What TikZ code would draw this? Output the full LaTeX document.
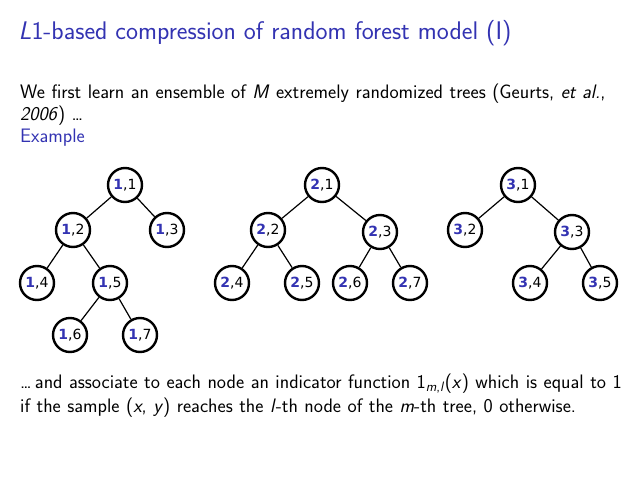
\documentclass[tikz,border=0pt]{standalone}
\usepackage{fontspec}
\newfontfamily\nodefont{DejaVu Sans}
\begin{document}
\begin{tikzpicture}[x=1pt,y=-1pt,
  tn/.style={circle,draw,line width=2.4pt,minimum size=34pt,inner sep=0pt,font=\nodefont\fontsize{14}{16}\selectfont},
  ed/.style={line width=1.2pt}]
\definecolor{bt}{RGB}{51,51,178}
\useasboundingbox (0,0) rectangle (638,479);
\node[anchor=west,text=bt,font=\sffamily\fontsize{25.5}{30}\selectfont] (title) at (15,33) {\textit{L}1-based compression of random forest model (I)};
\node[anchor=north west,font=\sffamily\fontsize{19.5}{22}\selectfont,text width=610pt,inner sep=0pt,align=left] (t1) at (20,84) {We first learn an ensemble of \textit{M} extremely randomized trees (Geurts, \textit{et al.}, \textit{2006}) \dots\\\textcolor{bt}{Example}};
\newcommand\lab[2]{\textcolor{bt}{\textbf{#1}},#2}
\foreach \n/\a/\b/\x/\y in {a1/1/1/125/185,a2/1/2/73/230,a3/1/3/167/230,a4/1/4/37/283,a5/1/5/110/283,a6/1/6/70/335,a7/1/7/140/335,
 b1/2/1/322/185,b2/2/2/268/230,b3/2/3/380/232,b4/2/4/232/283,b5/2/5/302/283,b6/2/6/350/283,b7/2/7/410/283,
 c1/3/1/518/185,c2/3/2/465/230,c3/3/3/572/232,c4/3/4/530/283,c5/3/5/600/283}
  \node[tn] (\n) at (\x,\y) {\lab{\a}{\b}};
\foreach \p/\c in {a1/a2,a1/a3,a2/a4,a2/a5,a5/a6,a5/a7,b1/b2,b1/b3,b2/b4,b2/b5,b3/b6,b3/b7,c1/c2,c1/c3,c3/c4,c3/c5}
  \draw[ed] (\p) -- (\c);
\node[anchor=north west,font=\sffamily\fontsize{19.5}{24}\selectfont,text width=610pt,inner sep=0pt,align=left] (t2) at (20,374) {\dots\,and associate to each node an indicator function 1\textsubscript{\textit{m},\textit{l}}(\textit{x}) which is equal to 1 if the sample (\textit{x}, \textit{y}) reaches the \textit{l}-th node of the \textit{m}-th tree, 0 otherwise.};
\end{tikzpicture}
\end{document}
